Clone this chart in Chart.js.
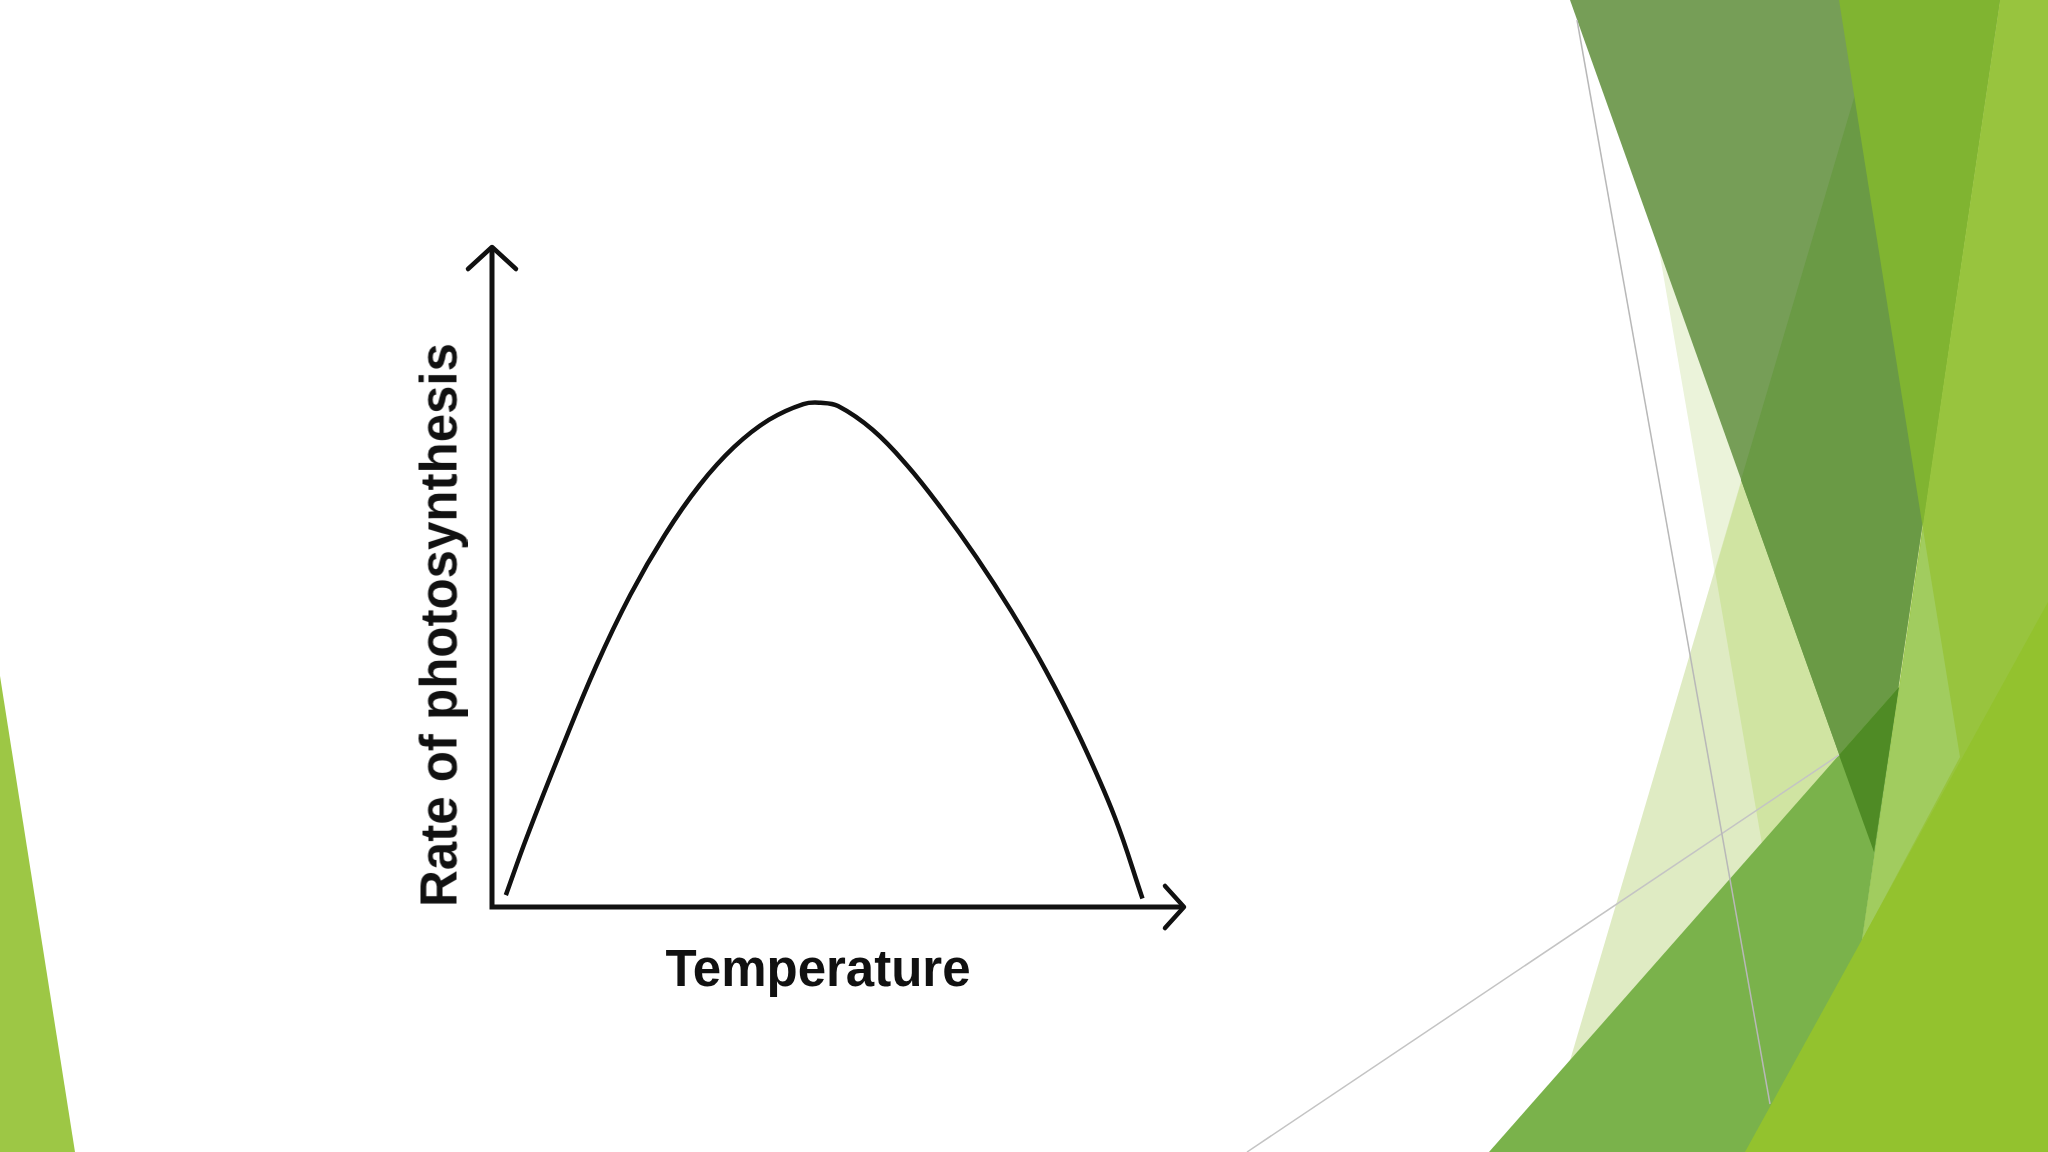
<!DOCTYPE html>
<html>
<head>
<meta charset="utf-8">
<title>Rate of photosynthesis vs temperature</title>
<script src="https://cdn.jsdelivr.net/npm/chart.js@4.4.1/dist/chart.umd.min.js"></script>
<style>
  html, body { margin: 0; padding: 0; background: #fff; overflow: hidden; }
  #slide { position: relative; width: 2048px; height: 1152px; }
  #deco, #chart { position: absolute; left: 0; top: 0; }
  .axis-title {
    position: absolute;
    font-family: "Liberation Sans", Arial, sans-serif;
    font-weight: bold;
    font-size: 51px;
    line-height: 51px;
    color: #111;
    white-space: nowrap;
  }
  #x-title { left: 818px; top: 968px; transform: translate(-50%, -50%); }
  #y-title { left: 439px; top: 625px; transform: translate(-50%, -50%) rotate(-90deg); }
</style>
</head>
<body>
<div id="slide">
  <!-- slide theme decoration (not data) -->
  <svg id="deco" width="2048" height="1152" viewBox="0 0 2048 1152">
    <polygon points="0,676 75,1152 0,1152" fill="#9dc745"/>
    <polygon points="1659,250 1815,1152 2048,1152 2048,250" fill="#ebf3da"/>
    <polygon points="1883,0 1543,1152 2048,1152 2048,0" fill="#dfebc3"/>
    <polygon points="1883,0 1715,571 1815,1152 2048,1152 2048,0" fill="#d0e4a2"/>
    <polygon points="1570,0 2000,0 1874,852" fill="#769e57"/>
    <polygon points="1883,0 2000,0 1874,852 1741,480" fill="#6a9a45"/>
    <polygon points="1839,0 2000,0 1923,529" fill="#80b431"/>
    <polygon points="2000,0 2048,0 2048,1152 1831,1152" fill="#98c43e"/>
    <polygon points="1923,529 1960,757 1862,940" fill="#a1cc5f"/>
    <polygon points="1489,1152 1899,687 1831,1152" fill="#7ab24b"/>
    <polygon points="1839,755 1899,687 1874,852" fill="#4f8b25"/>
    <line x1="1247" y1="1152" x2="1839" y2="755" stroke="#c4c4c4" stroke-width="1.5"/>
    <line x1="1577" y1="20" x2="1770" y2="1104" stroke="#b8b8b8" stroke-width="1.5"/>
    <polygon points="1745,1152 2048,602 2048,1152" fill="#93c22e"/>
  </svg>
  <canvas id="chart" width="2048" height="1152"></canvas>
  <div id="y-title" class="axis-title">Rate of photosynthesis</div>
  <div id="x-title" class="axis-title">Temperature</div>
</div>
<script>
// Values (arbitrary units, axes run 0..100)
const temperature = [2, 5, 10, 15, 20, 25, 30, 35, 40, 45, 47.5,
                     50, 55, 60, 65, 70, 75, 80, 85, 90, 94];
const rate        = [1.8, 10.5, 23.8, 36.4, 47.3, 56.4, 63.9, 69.7, 73.8, 76.2, 76.4,
                     75.9, 72.3, 66.9, 60.3, 53.0, 44.9, 35.9, 25.6, 13.6, 1.3];

const AXIS_MIN = 0;
const AXIS_MAX = 100;
const INK = '#111';

// Draw both axes with open arrowheads from the scale positions
const arrowAxes = {
  id: 'arrowAxes',
  beforeDatasetsDraw(chart) {
    const { ctx, scales: { x, y } } = chart;
    const x0 = x.getPixelForValue(AXIS_MIN), x1 = x.getPixelForValue(AXIS_MAX);
    const y0 = y.getPixelForValue(AXIS_MIN), y1 = y.getPixelForValue(AXIS_MAX);
    ctx.save();
    ctx.strokeStyle = INK;
    ctx.lineWidth = 5;
    ctx.lineCap = 'butt';
    ctx.beginPath();
    ctx.moveTo(x0, y0 + 2.5);
    ctx.lineTo(x0, y1 + 2);
    ctx.moveTo(x0 - 2.5, y0);
    ctx.lineTo(x1 - 2, y0);
    ctx.stroke();

    ctx.lineWidth = 4.5;
    ctx.lineJoin = 'round';
    ctx.lineCap = 'round';
    ctx.beginPath();
    ctx.moveTo(x0 - 24, y1 + 22);
    ctx.lineTo(x0, y1);
    ctx.lineTo(x0 + 24, y1 + 22);
    ctx.moveTo(x1 - 19, y0 - 21);
    ctx.lineTo(x1, y0);
    ctx.lineTo(x1 - 19, y0 + 21);
    ctx.stroke();
    ctx.restore();
  },
};

new Chart(document.getElementById('chart').getContext('2d'), {
  type: 'line',
  data: {
    datasets: [{
      label: 'Rate of photosynthesis',
      data: temperature.map((t, i) => ({ x: t, y: rate[i] })),
      borderColor: INK,
      borderWidth: 4.5,
      pointRadius: 0,
      fill: false,
      tension: 0.4,
      clip: false,
    }],
  },
  options: {
    responsive: false,
    animation: false,
    devicePixelRatio: 1,
    layout: { padding: { left: 492, right: 864, top: 247, bottom: 245 } },
    plugins: { legend: { display: false }, tooltip: { enabled: false } },
    scales: {
      x: { type: 'linear', min: AXIS_MIN, max: AXIS_MAX, display: false },
      y: { min: AXIS_MIN, max: AXIS_MAX, display: false },
    },
  },
  plugins: [arrowAxes],
});
</script>
</body>
</html>
